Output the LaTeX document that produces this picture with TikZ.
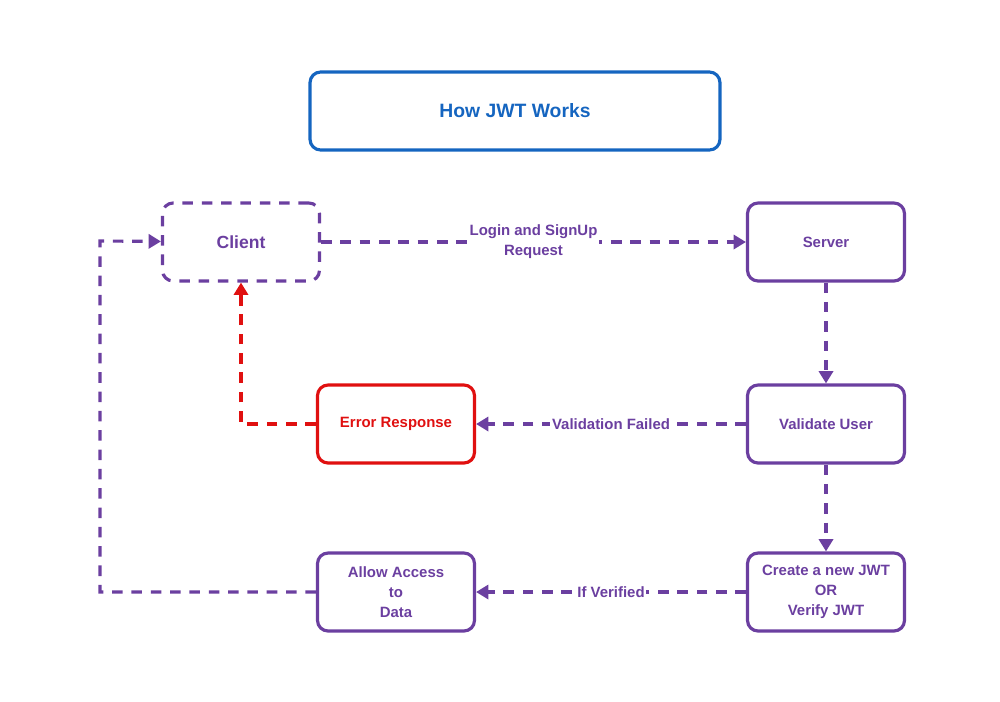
\documentclass[tikz,border=0pt]{standalone}
\usepackage{fontspec}
\setmainfont{Liberation Sans}
\usetikzlibrary{positioning,arrows.meta}
\definecolor{jwtpurple}{HTML}{6B3FA0}
\definecolor{jwtblue}{HTML}{1565C0}
\definecolor{jwtred}{HTML}{E01010}
\begin{document}
\begin{tikzpicture}[x=0.02cm,y=-0.02cm,
    box/.style={draw=jwtpurple, line width=1.8pt, rounded corners=6pt, minimum width=3.14cm, minimum height=1.56cm, align=center, text=jwtpurple, font=\bfseries\fontsize{8.5}{11.5}\selectfont},
    flow/.style={draw=jwtpurple, line width=1.8pt, dash pattern=on 6pt off 5pt, -{Triangle[length=7pt,width=8pt]}},
    lbl/.style={fill=white, inner sep=1pt, text=jwtpurple, font=\bfseries\fontsize{8.5}{11.5}\selectfont, align=center}]
    \useasboundingbox (0,0) rectangle (1000,701);

    \node [box, draw=jwtblue, text=jwtblue, minimum width=8.2cm, font=\bfseries\fontsize{11}{13}\selectfont] (title) at (515,111) {How JWT Works};

    \node [box, dash pattern=on 6pt off 5pt, font=\bfseries\fontsize{10}{12}\selectfont] (client) at (241,242) {Client};
    \node [box] (server) at (826,242) {Server};
    \node [box] (validate) at (826,424) {Validate User};
    \node [box, draw=jwtred, text=jwtred] (error) at (396,424) {Error Response};
    \node [box] (create) at (826,592) {Create a new JWT\\OR\\Verify JWT};
    \node [box] (allow) at (396,592) {Allow Access\\to\\Data};
    \coordinate (loopa) at (100,592);
    \coordinate (loopb) at (100,241);
    \coordinate (bend) at (241,424);

    \draw [flow] (client) -- node[lbl] {Login and SignUp\\Request} (server);
    \draw [flow] (server) -- (validate);
    \draw [flow] (validate) -- node[lbl] {Validation Failed} (error);
    \draw [flow] (validate) -- (create);
    \draw [flow] (create) -- node[lbl] {If Verified} (allow);
    \draw [flow, draw=jwtred] (error) -- (bend) -- (client);
    \draw [flow] (allow) -- (loopa) -- (loopb) -- (client);
\end{tikzpicture}
\end{document}
